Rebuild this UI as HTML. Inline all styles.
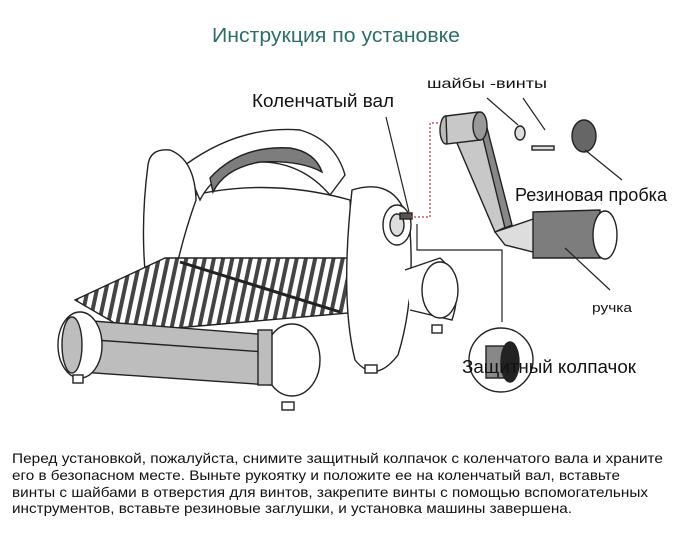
<!DOCTYPE html>
<html><head><meta charset="utf-8"><style>
html,body{margin:0;padding:0;background:#fff;width:695px;height:549px;overflow:hidden}
svg{display:block}
text{font-family:"Liberation Sans","Noto Sans CJK SC",sans-serif}
</style></head><body>
<svg width="695" height="549" viewBox="0 0 695 549" xmlns="http://www.w3.org/2000/svg">
<defs>
<pattern id="grid" width="9" height="9" patternUnits="userSpaceOnUse" patternTransform="rotate(12)">
<rect width="9" height="9" fill="#fff"/><rect width="4" height="9" fill="#444"/>
</pattern>
</defs>
<text x="212" y="42" font-size="20" fill="#2d6e6a" textLength="248" lengthAdjust="spacingAndGlyphs">Инструкция по установке</text>

<g stroke="#222" stroke-width="1.4" fill="#fff">
  <path d="M175 200 Q260 175 350 200 L355 290 L175 300 Z"/>
  <path d="M185 165 Q240 125 300 130 Q335 140 345 175 L330 195 Q300 160 255 162 Q215 170 200 200 Z"/>
  <path d="M210 178 Q240 145 290 148 Q315 152 322 172 Q300 160 260 162 Q225 168 213 192 Z" fill="#7d7d7d"/>
  <path d="M148 165 Q150 148 170 150 Q195 160 196 200 Q178 250 168 310 L150 312 Q138 240 148 165 Z"/>
  <path d="M75 300 L165 258 L355 258 L360 312 L130 332 Z" fill="url(#grid)"/>
  <path d="M180 262 L340 312" stroke="#222" stroke-width="3"/>
  <path d="M80 320 L270 335 L270 385 L80 372 Z" fill="#bdbdbd"/>
  <path d="M95 340 L265 352"/>
  <ellipse cx="80" cy="345" rx="22" ry="33" fill="#fff"/>
  <ellipse cx="72" cy="345" rx="10" ry="28" fill="#bdbdbd"/>
  <ellipse cx="292" cy="360" rx="28" ry="36" fill="#fff"/>
  <rect x="258" y="330" width="14" height="55" fill="#bdbdbd"/>
  <path d="M352 190 Q400 175 410 230 Q415 300 398 355 Q375 385 355 360 Q340 300 352 190 Z"/>
  <ellipse cx="397" cy="225" rx="14" ry="20"/>
  <ellipse cx="397" cy="225" rx="7" ry="11" fill="#ddd"/>
  <rect x="400" y="213" width="12" height="6" fill="#555"/>
  <path d="M405 270 L440 258 Q465 280 452 320 L410 310"/>
  <ellipse cx="440" cy="290" rx="18" ry="28"/>
  <rect x="73" y="375" width="10" height="8"/><rect x="282" y="402" width="12" height="8"/><rect x="365" y="365" width="12" height="8"/><rect x="432" y="325" width="10" height="8"/>
  <path d="M448 122 L478 118 L510 225 L495 232 Z" fill="#c8c8c8"/>
  <path d="M478 118 L485 120 L512 225 L505 228 Z" fill="#888"/>
  <ellipse cx="446" cy="130" rx="6" ry="14" fill="#bbb"/>
  <path d="M446 116 L478 112 L480 140 L447 144 Z" fill="#c8c8c8"/>
  <ellipse cx="480" cy="126" rx="7" ry="14" fill="#999"/>
  <path d="M495 232 L545 215 L545 255 L505 245 Z" fill="#ddd"/>
  <path d="M533 212 L600 210 L600 258 L533 258 Z" fill="#7d7d7d"/>
  <ellipse cx="605" cy="235" rx="12" ry="24" fill="#fff"/>
  <ellipse cx="520" cy="133" rx="5" ry="7" fill="#ddd"/>
  <rect x="532" y="146" width="22" height="4" fill="#ddd"/>
  <ellipse cx="584" cy="136" rx="12" ry="16" fill="#666"/>
  <circle cx="501" cy="360" r="32"/>
  <rect x="486" y="346" width="18" height="32" fill="#888"/>
  <ellipse cx="510" cy="362" rx="9" ry="20" fill="#222"/>
</g>

<g stroke="#222" stroke-width="1.2" fill="none">
  <path d="M386 117 L409 212"/>
  <path d="M417 224 L417 250 L502 250 L502 322"/>
  <path d="M487 98 L518 125"/>
  <path d="M523 98 L545 130"/>
  <path d="M585 150 L622 180"/>
  <path d="M565 248 L610 290"/>
</g>
<path d="M410 217 L430 217 L430 123 L443 123" stroke="#c33" stroke-width="1.2" stroke-dasharray="2,2" fill="none"/>

<text x="252" y="107" font-size="18" fill="#111" textLength="142" lengthAdjust="spacingAndGlyphs">Коленчатый вал</text>
<text x="427" y="88" font-size="14" fill="#111" textLength="120" lengthAdjust="spacingAndGlyphs">шайбы  -винты</text>
<text x="515" y="201" font-size="18" fill="#111" textLength="152" lengthAdjust="spacingAndGlyphs">Резиновая пробка</text>
<text x="592" y="312" font-size="13" fill="#111" textLength="40" lengthAdjust="spacingAndGlyphs">ручка</text>
<text x="462" y="373" font-size="18" fill="#111" textLength="174" lengthAdjust="spacingAndGlyphs">Защитный колпачок</text>

<g font-size="14" fill="#111">
<text x="12" y="463" textLength="651" lengthAdjust="spacingAndGlyphs">Перед установкой, пожалуйста, снимите защитный колпачок с коленчатого вала и храните</text>
<text x="12" y="480" textLength="608" lengthAdjust="spacingAndGlyphs">его в безопасном месте. Выньте рукоятку и положите ее на коленчатый вал, вставьте</text>
<text x="12" y="497" textLength="636" lengthAdjust="spacingAndGlyphs">винты с шайбами в отверстия для винтов, закрепите винты с помощью вспомогательных</text>
<text x="12" y="513" textLength="560" lengthAdjust="spacingAndGlyphs">инструментов, вставьте резиновые заглушки, и установка машины завершена.</text>
</g>
</svg>
</body></html>
